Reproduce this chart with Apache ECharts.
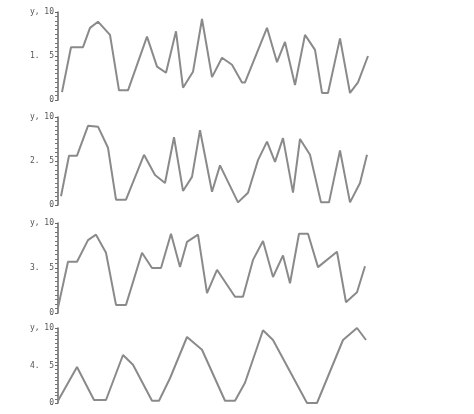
<!DOCTYPE html>
<html><head><meta charset="utf-8">
<script src="https://cdn.jsdelivr.net/npm/echarts@6/dist/echarts.min.js"></script>
<style>html,body{margin:0;background:#fff}#c{width:474px;height:414px}</style>
</head><body><div id="c"></div>
<script>
const x1 = [62,71,83,90,98,110,119,128,147,157,166,176,183,193,202,212,222,232,242,245,267,277,285,295,305,315,322,328,340,350,358,368];
const y1 = [0.9,6.0,6.0,8.2,8.9,7.4,1.1,1.1,7.2,3.8,3.1,7.8,1.4,3.2,9.2,2.6,4.8,4.0,2.0,2.0,8.2,4.3,6.6,1.7,7.4,5.7,0.8,0.8,7.0,0.8,2.0,5.0];
const x2 = [61,69,77,88,98,108,116,126,144,155,165,174,183,192,200,212,220,238,248,258,267,275,283,293,300,310,321,329,340,350,360,367];
const y2 = [1.0,5.6,5.6,9.0,8.9,6.5,0.6,0.6,5.7,3.4,2.5,7.7,1.6,3.2,8.5,1.5,4.5,0.3,1.4,5.1,7.2,4.9,7.6,1.4,7.5,5.7,0.3,0.3,6.2,0.3,2.5,5.7];
const x3 = [58,68,77,88,96,106,116,126,142,152,161,171,180,187,198,207,217,235,243,253,263,273,283,290,299,308,318,337,346,357,365];
const y3 = [0.6,5.7,5.7,8.1,8.7,6.7,0.9,0.9,6.7,5.0,5.0,8.8,5.1,7.9,8.7,2.2,4.8,1.8,1.8,5.9,8.0,4.0,6.4,3.3,8.8,8.8,5.1,6.8,1.2,2.3,5.2];
const x4 = [58,77,94,106,123,133,152,159,170,187,202,225,235,245,263,273,307,317,343,357,366];
const y4 = [0.3,4.8,0.4,0.4,6.4,5.1,0.3,0.3,3.3,8.8,7.1,0.3,0.3,2.7,9.7,8.4,0.0,0.0,8.4,10.0,8.4];
const xs=[x1,x2,x3,x4], ys=[y1,y2,y3,y4];
const tops=[12,117,223,328], heights=[88,88,90,75];
const grid=[],xAxis=[],yAxis=[],series=[];
for(let i=0;i<4;i++){
  grid.push({left:58,width:312,top:tops[i],height:heights[i]});
  xAxis.push({gridIndex:i,type:'value',min:58,max:370,show:false});
  yAxis.push({gridIndex:i,type:'value',min:0,max:10,interval:5,
    axisLine:{show:true,lineStyle:{color:'#666',width:1.5}},
    axisTick:{show:true,length:3,lineStyle:{color:'#666'}},
    minorTick:{show:true,splitNumber:10,length:3,lineStyle:{color:'#777'}},
    splitLine:{show:false},
    axisLabel:{fontFamily:'DejaVu Sans Mono',fontSize:8,color:'#555',margin:4,
      formatter:v=>v===10?'y, 10':v===5?(i+1)+'.  5':'0'}});
  series.push({type:'line',xAxisIndex:i,yAxisIndex:i,symbol:'none',
    data:xs[i].map((x,k)=>[x,ys[i][k]]),lineStyle:{color:'#8a8a8a',width:2}});
}
const ch=echarts.init(document.getElementById('c'));
ch.setOption({animation:false,grid,xAxis,yAxis,series});
</script></body></html>
